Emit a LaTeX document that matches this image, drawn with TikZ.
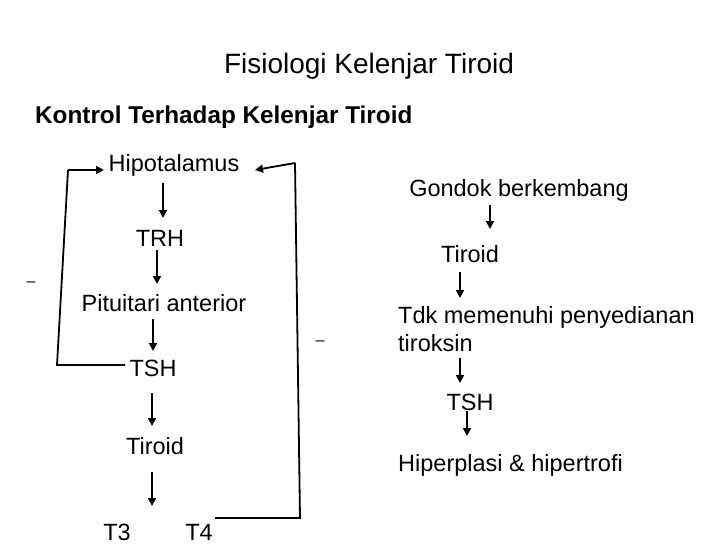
\documentclass[tikz,border=0pt]{standalone}
\usepackage{fontspec}
\setmainfont{Liberation Sans}
\usetikzlibrary{arrows.meta}
\begin{document}
\begin{tikzpicture}[x=1pt,y=-1pt,
  lbl/.style={inner sep=0pt,font=\fontsize{23.5}{28}\selectfont},
  arr/.style={line width=1.8pt,-{Triangle[length=8pt,width=8pt]}},
  fb/.style={line width=1.8pt},
  fba/.style={line width=1.8pt,-{Triangle[length=8pt,width=8pt]}}]
\useasboundingbox (0,0) rectangle (728,546);
\node[lbl,font=\fontsize{28}{32}\selectfont] (title) at (369,66) {Fisiologi Kelenjar Tiroid};
\node[lbl,anchor=west,font=\fontsize{24.3}{28}\selectfont\bfseries] (sub) at (35,117) {Kontrol Terhadap Kelenjar Tiroid};
\node[lbl] (hip) at (174,165) {Hipotalamus};
\node[lbl] (trh) at (160,238) {TRH};
\node[lbl] (pit) at (164,303) {Pituitari anterior};
\node[lbl] (tsh) at (153,368) {TSH};
\node[lbl] (tir) at (155,446) {Tiroid};
\node[lbl] (t3) at (117,532) {T3};
\node[lbl] (t4) at (199,532) {T4};
\node[lbl,font=\fontsize{16}{20}\selectfont] (m1) at (31,284) {--};
\node[lbl,font=\fontsize{16}{20}\selectfont] (m2) at (320,343) {--};
\node[lbl] (gon) at (519,190) {Gondok berkembang};
\node[lbl,anchor=west,align=left] (tdk) at (398,329) {Tdk memenuhi penyedianan\\tiroksin};
\node[lbl] (tir2) at (470,254) {Tiroid};
\node[lbl] (tsh2) at (470,402) {TSH};
\node[lbl,anchor=west] (hip2) at (398,465) {Hiperplasi \& hipertrofi};
\coordinate (a1) at (163,183); \coordinate (a2) at (163,218);
\draw[arr] (a1) -- (a2);
\coordinate (b1) at (157,250); \coordinate (b2) at (157,284);
\draw[arr] (b1) -- (b2);
\coordinate (c1) at (153,319); \coordinate (c2) at (153,351);
\draw[arr] (c1) -- (c2);
\coordinate (d1) at (152,393); \coordinate (d2) at (152,426);
\draw[arr] (d1) -- (d2);
\coordinate (e1) at (152,472); \coordinate (e2) at (152,506);
\draw[arr] (e1) -- (e2);
\coordinate (f1) at (490,205); \coordinate (f2) at (490,229);
\draw[arr] (f1) -- (f2);
\coordinate (g1) at (460,272); \coordinate (g2) at (460,298);
\draw[arr] (g1) -- (g2);
\coordinate (h1) at (460,358); \coordinate (h2) at (460,383);
\draw[arr] (h1) -- (h2);
\coordinate (i1) at (467,411); \coordinate (i2) at (467,436);
\draw[arr] (i1) -- (i2);
\coordinate (l1) at (125,365); \coordinate (l2) at (57,365); \coordinate (l3) at (68,170); \coordinate (l4) at (104,170);
\draw[fb] (l1) -- (l2) -- (l3);
\draw[fba] (l3) -- (l4);
\coordinate (r1) at (215,518); \coordinate (r2) at (300,518); \coordinate (r3) at (295,163); \coordinate (r4) at (255,170);
\draw[fb] (r1) -- (r2) -- (r3);
\draw[fba] (r3) -- (r4);
\end{tikzpicture}
\end{document}
